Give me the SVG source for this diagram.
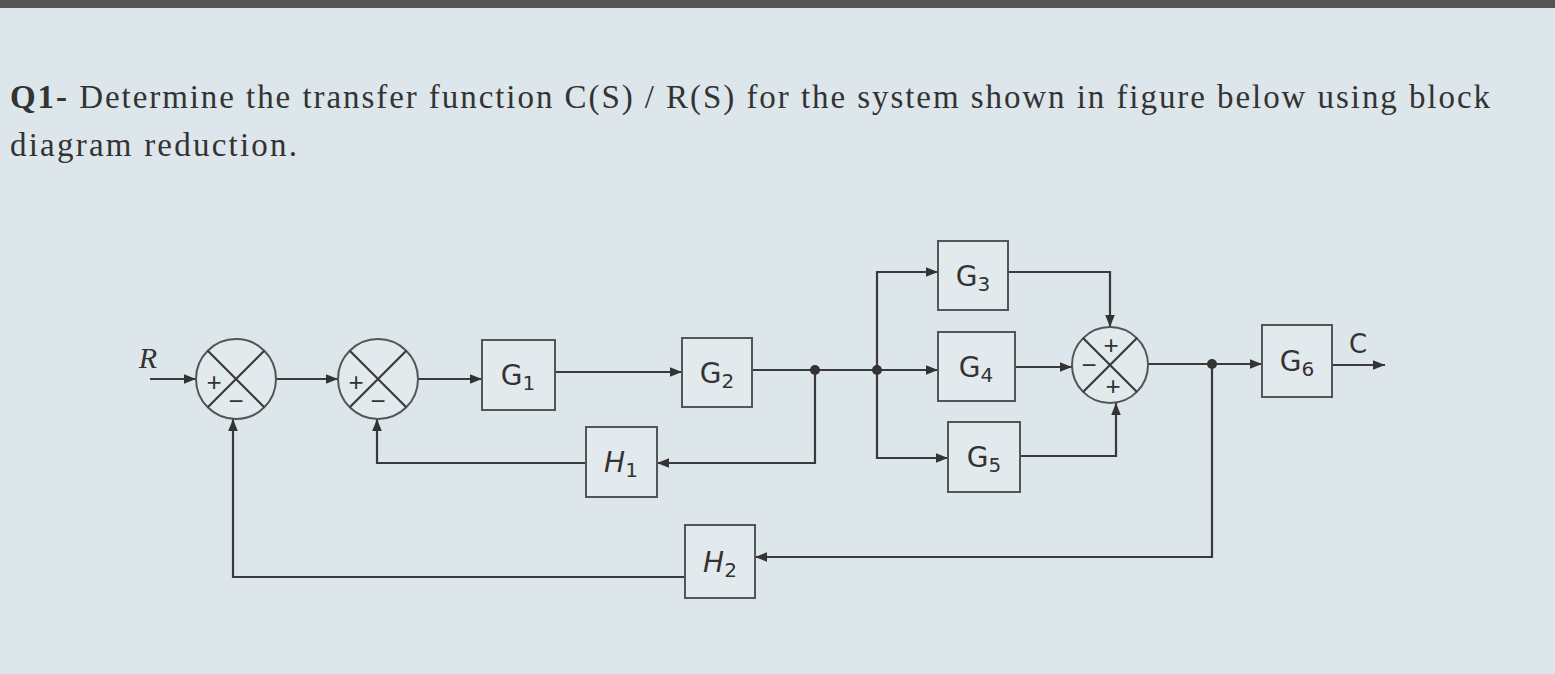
<svg xmlns="http://www.w3.org/2000/svg" width="1555" height="674" viewBox="0 0 1555 674">
<defs>
<marker id="a" viewBox="0 0 10 10" refX="10" refY="5" markerWidth="12" markerHeight="12" markerUnits="userSpaceOnUse" orient="auto"><path d="M0,1 L10,5 L0,9 z" fill="#333"/></marker>
<style>
.l{fill:none;stroke:#3a3a3a;stroke-width:2.2}
.b{fill:#e3eaee;stroke:#555;stroke-width:2}
.t{font-family:"Liberation Serif",serif;fill:#333}
.s{font-family:"Liberation Sans",sans-serif;fill:#333;font-size:26px;text-anchor:middle}
.g{font-family:"DejaVu Sans",sans-serif;fill:#333;font-size:28px;text-anchor:middle}
</style>
</defs>
<rect width="1555" height="674" fill="#dde6ea"/>
<rect width="1555" height="8" fill="#555"/>
<text class="t" x="10" y="108" font-size="33" textLength="1480" lengthAdjust="spacing"><tspan font-weight="bold">Q1-</tspan> Determine the transfer function C(S) / R(S) for the system shown in figure below using block</text>
<text class="t" x="10" y="156" font-size="33" textLength="287" lengthAdjust="spacing">diagram reduction.</text>
<g id="connectors" class="l">
<path d="M150,379 H196" marker-end="url(#a)"/>
<path d="M276,379 H338" marker-end="url(#a)"/>
<path d="M418,379 H482" marker-end="url(#a)"/>
<path d="M555,372 H682" marker-end="url(#a)"/>
<path d="M752,370 H938" marker-end="url(#a)"/>
<path d="M815,370 V463 H657" marker-end="url(#a)"/>
<path d="M586,463 H377 V419" marker-end="url(#a)"/>
<path d="M877,370 V272 H938" marker-end="url(#a)"/>
<path d="M877,370 V458 H948" marker-end="url(#a)"/>
<path d="M1008,272 H1110 V327" marker-end="url(#a)"/>
<path d="M1015,367 H1072" marker-end="url(#a)"/>
<path d="M1020,456 H1116 V403" marker-end="url(#a)"/>
<path d="M1148,364 H1262" marker-end="url(#a)"/>
<path d="M1212,364 V557 H755" marker-end="url(#a)"/>
<path d="M685,577 H233 V419" marker-end="url(#a)"/>
<path d="M1332,365 H1385" marker-end="url(#a)"/>
</g>
<circle cx="815" cy="370" r="5" fill="#333"/>
<circle cx="877" cy="370" r="5" fill="#333"/>
<circle cx="1212" cy="364" r="5" fill="#333"/>
<text class="t" x="148" y="368" font-size="30" font-style="italic" text-anchor="middle">R</text>
<text x="1358" y="353" font-size="26" text-anchor="middle" font-family="DejaVu Sans, sans-serif" fill="#333">C</text>
<g id="sum1"><circle class="b" cx="236" cy="379" r="40"/><path class="l" d="M208,351 L264,407 M264,351 L208,407"/><text class="s" x="214" y="391">+</text><text class="s" x="236" y="410">−</text></g>
<g id="sum2"><circle class="b" cx="378" cy="379" r="40"/><path class="l" d="M350,351 L406,407 M406,351 L350,407"/><text class="s" x="356" y="391">+</text><text class="s" x="378" y="410">−</text></g>
<g id="sum3"><circle class="b" cx="1110" cy="365" r="38"/><path class="l" d="M1083,338 L1137,392 M1137,338 L1083,392"/><text class="s" x="1111" y="354">+</text><text class="s" x="1089" y="374">−</text><text class="s" x="1113" y="395">+</text></g>
<g id="G1"><rect class="b" x="482" y="340" width="73" height="70"/><text class="g" x="518" y="385">G<tspan font-size="20" dy="5">1</tspan></text></g>
<g id="G2"><rect class="b" x="682" y="338" width="70" height="69"/><text class="g" x="717" y="383">G<tspan font-size="20" dy="5">2</tspan></text></g>
<g id="G3"><rect class="b" x="938" y="241" width="70" height="69"/><text class="g" x="973" y="286">G<tspan font-size="20" dy="5">3</tspan></text></g>
<g id="G4"><rect class="b" x="938" y="332" width="77" height="69"/><text class="g" x="976" y="377">G<tspan font-size="20" dy="5">4</tspan></text></g>
<g id="G5"><rect class="b" x="948" y="422" width="72" height="70"/><text class="g" x="984" y="467">G<tspan font-size="20" dy="5">5</tspan></text></g>
<g id="G6"><rect class="b" x="1262" y="325" width="70" height="72"/><text class="g" x="1297" y="371">G<tspan font-size="20" dy="5">6</tspan></text></g>
<g id="H1"><rect class="b" x="586" y="427" width="71" height="70"/><text class="g" x="621" y="472" font-style="italic">H<tspan font-size="20" dy="5" font-style="normal">1</tspan></text></g>
<g id="H2"><rect class="b" x="685" y="525" width="70" height="73"/><text class="g" x="720" y="572" font-style="italic">H<tspan font-size="20" dy="5" font-style="normal">2</tspan></text></g>
</svg>
